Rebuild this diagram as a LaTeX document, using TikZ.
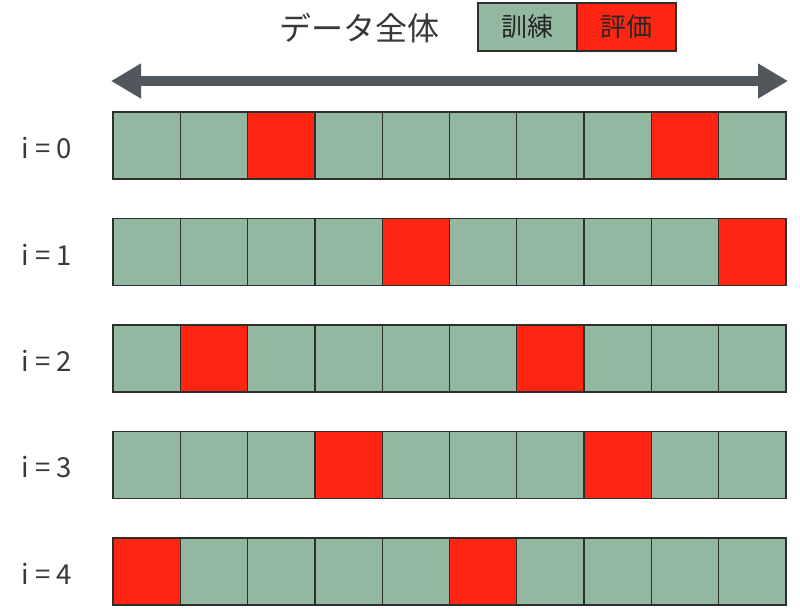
\documentclass[tikz,border=0pt]{standalone}
\usepackage{fontspec}
\setmainfont{Noto Sans CJK JP}
\usetikzlibrary{arrows.meta}
\definecolor{trainc}{HTML}{93B8A0}
\definecolor{evalc}{HTML}{FE2613}
\definecolor{arrowc}{HTML}{52575D}
\definecolor{edgec}{HTML}{2E2E2E}
\begin{document}
\begin{tikzpicture}[x=1pt,y=-1pt,
  cellbox/.style={draw=edgec,line width=1.3pt,minimum width=67.3pt,minimum height=67pt,inner sep=0pt,outer sep=0pt,anchor=north west},
  trainbox/.style={cellbox,fill=trainc},
  evalbox/.style={cellbox,fill=evalc},
  rowlabel/.style={font=\fontsize{27.5}{27.5}\selectfont,text=black!78,anchor=center},
  legbox/.style={draw=edgec,line width=1.3pt,minimum width=99pt,minimum height=48pt,inner sep=0pt,outer sep=0pt,anchor=north west,font=\fontsize{26}{26}\selectfont,text=black!85}]
\useasboundingbox (0,0) rectangle (800,614);
% title and legend
\node[font=\fontsize{32}{32}\selectfont,text=black!78] (title) at (359,28) {データ全体};
\node[legbox,fill=trainc] (legtrain) at (478,3) {訓練};
\node[legbox,fill=evalc] (legeval) at (577,3) {評価};
% arrow
\coordinate (aL) at (111,81);
\coordinate (aR) at (788,81);
\draw[arrowc,line width=10pt,{Triangle[length=30pt,width=33pt]}-{Triangle[length=30pt,width=33pt]}] (aL) -- (aR);
% rows
\foreach \r/\ya/\ea/\eb in {0/112/2/8,1/218.5/4/9,2/325/1/6,3/431.5/3/7,4/538/0/5}{
  \node[rowlabel] (lab\r) at (47,\ya+36) {i = \r};
  \foreach \c in {0,...,9}{
    \pgfmathtruncatemacro{\isred}{(\c==\ea)||(\c==\eb)}
    \ifnum\isred=1
      \node[evalbox] (c\r-\c) at (113+67.3*\c,\ya) {};
    \else
      \node[trainbox] (c\r-\c) at (113+67.3*\c,\ya) {};
    \fi
  }
}
\end{tikzpicture}
\end{document}
